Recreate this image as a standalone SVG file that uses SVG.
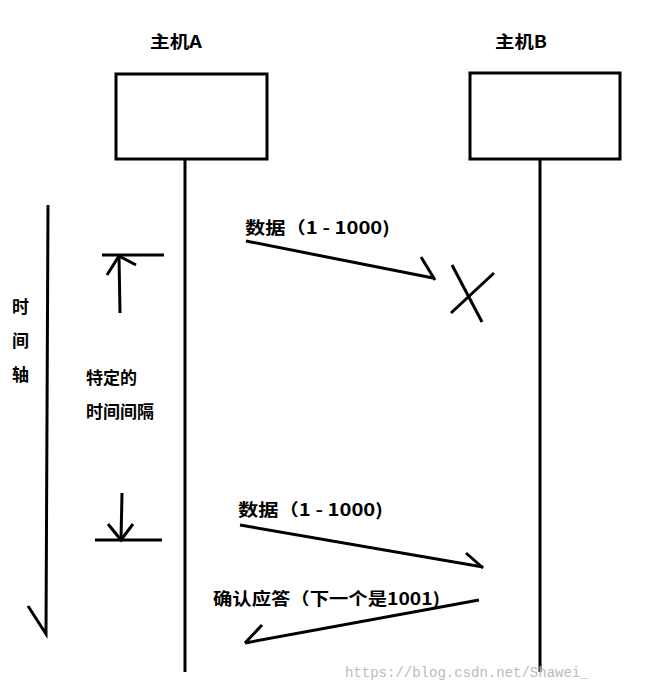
<svg xmlns="http://www.w3.org/2000/svg" width="645" height="691" viewBox="0 0 645 691">
<style>
.l{stroke:#000;stroke-width:3;fill:none;stroke-linecap:butt}
.t{font-family:"Noto Sans CJK SC","Liberation Sans",sans-serif;font-weight:bold;font-size:17px;fill:#000}
.w{font-family:"Liberation Mono",monospace;font-size:14px;fill:#bbb}
</style>
<rect width="645" height="691" fill="#fff"/>
<g id="hostA"><text class="t" x="150" y="48" textLength="52" lengthAdjust="spacingAndGlyphs">主机A</text><rect class="l" x="116" y="74" width="151" height="85" stroke-width="4"/><line class="l" x1="185" y1="159" x2="185" y2="672" stroke-width="4"/></g>
<g id="hostB"><text class="t" x="495" y="48" textLength="52" lengthAdjust="spacingAndGlyphs">主机B</text><rect class="l" x="470" y="73" width="150" height="86" stroke-width="4"/><line class="l" x1="540" y1="159" x2="540" y2="672" stroke-width="4"/></g>
<g id="timeline"><polyline class="l" points="48,205 46,634 28,606"/><text class="t" x="12" y="313">时</text><text class="t" x="12" y="347">间</text><text class="t" x="12" y="381">轴</text></g>
<g id="interval">
<line class="l" x1="102" y1="255" x2="164" y2="255"/><line class="l" x1="120" y1="313" x2="119" y2="256"/><polyline class="l" points="107,275 119,256 136,265"/>
<line class="l" x1="95" y1="540" x2="162" y2="540"/><line class="l" x1="122" y1="493" x2="121" y2="540"/><polyline class="l" points="108,524 121,540 133,524"/>
<text class="t" x="86" y="384">特定的</text><text class="t" x="86" y="418">时间间隔</text>
</g>
<g id="connectors">
<line class="l" x1="246" y1="241" x2="433" y2="278"/><line class="l" x1="421" y1="257" x2="435" y2="280"/>
<line class="l" x1="452" y1="265" x2="482" y2="322"/><line class="l" x1="451" y1="313" x2="494" y2="273"/>
<line class="l" x1="240" y1="525" x2="483" y2="567"/><line class="l" x1="466" y1="553" x2="483" y2="568"/>
<line class="l" x1="479" y1="600" x2="245" y2="643"/><line class="l" x1="262" y1="625" x2="245" y2="643"/>
</g>
<g id="labels">
<text class="t" x="245" y="234" textLength="145" lengthAdjust="spacingAndGlyphs">数据（1 - 1000)</text>
<text class="t" x="238" y="516" textLength="145" lengthAdjust="spacingAndGlyphs">数据（1 - 1000)</text>
<text class="t" x="213" y="605" textLength="227" lengthAdjust="spacingAndGlyphs">确认应答（下一个是1001)</text>
</g>
<text class="w" x="345" y="677">https://blog.csdn.net/Shawei_</text>
</svg>
